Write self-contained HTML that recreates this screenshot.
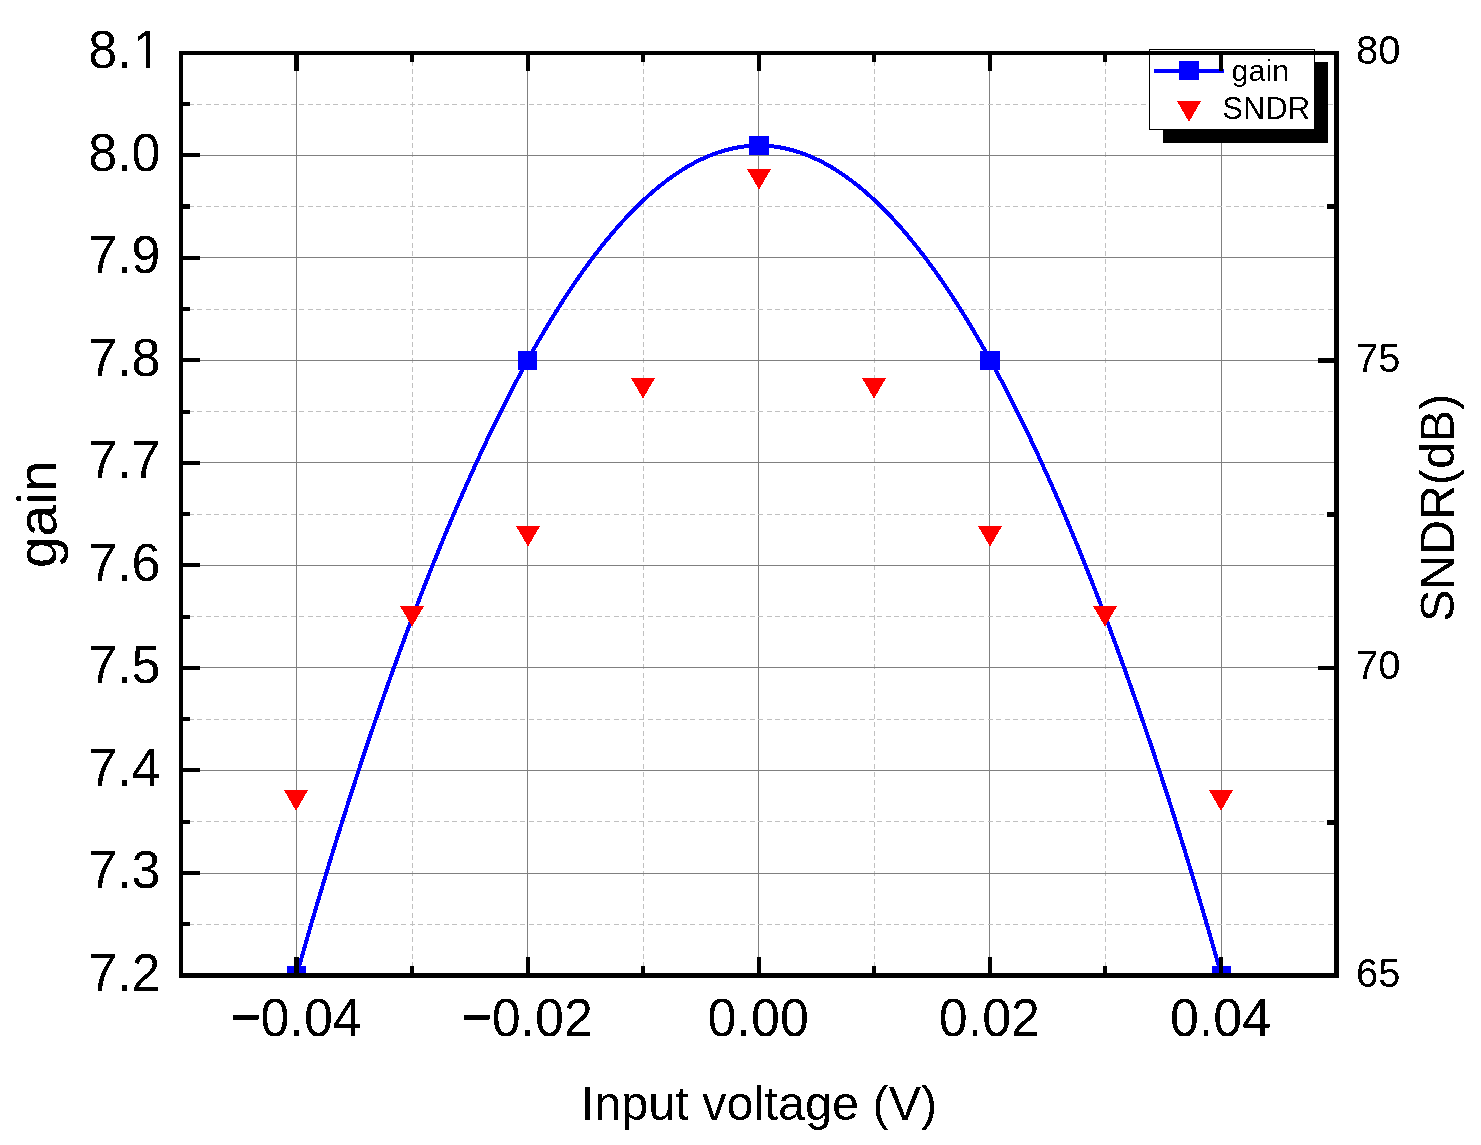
<!DOCTYPE html><html><head><meta charset="utf-8"><title>gain and SNDR vs input voltage</title><style>html,body{margin:0;padding:0;background:#fff;overflow:hidden;}svg{display:block;}text{font-family:"Liberation Sans",sans-serif;fill:#000;}</style></head><body>
<svg width="1481" height="1145" viewBox="0 0 1481 1145">
<rect x="0" y="0" width="1481" height="1145" fill="#fff"/>
<defs><filter id="bw" x="-5%" y="-5%" width="110%" height="110%" color-interpolation-filters="sRGB"><feComponentTransfer><feFuncA type="discrete" tableValues="0 1"/></feComponentTransfer></filter><clipPath id="c81" clipPathUnits="userSpaceOnUse"><rect x="-200" y="-100" width="300" height="96"/><rect x="-200" y="-4" width="172.5" height="20"/><rect x="-15.5" y="-4" width="4" height="20"/></clipPath><clipPath id="pa"><rect x="183" y="55" width="1151" height="918"/></clipPath></defs>
<g shape-rendering="crispEdges"><rect x="296" y="55" width="1" height="918" fill="#808080"/><line x1="412.5" y1="52.46" x2="412.5" y2="973" stroke="#c0c0c0" stroke-width="1" stroke-dasharray="5 3.27"/><rect x="527" y="55" width="1" height="918" fill="#808080"/><line x1="643.5" y1="52.46" x2="643.5" y2="973" stroke="#c0c0c0" stroke-width="1" stroke-dasharray="5 3.27"/><rect x="758" y="55" width="1" height="918" fill="#808080"/><line x1="874.5" y1="52.46" x2="874.5" y2="973" stroke="#c0c0c0" stroke-width="1" stroke-dasharray="5 3.27"/><rect x="989" y="55" width="1" height="918" fill="#808080"/><line x1="1105.5" y1="52.46" x2="1105.5" y2="973" stroke="#c0c0c0" stroke-width="1" stroke-dasharray="5 3.27"/><rect x="1221" y="55" width="1" height="918" fill="#808080"/><line x1="180" y1="104.5" x2="1334" y2="104.5" stroke="#c0c0c0" stroke-width="1" stroke-dasharray="5.25 3.25"/><rect x="183" y="155" width="1151" height="1" fill="#808080"/><line x1="180" y1="206.5" x2="1334" y2="206.5" stroke="#c0c0c0" stroke-width="1" stroke-dasharray="5.25 3.25"/><rect x="183" y="257" width="1151" height="1" fill="#808080"/><line x1="180" y1="309.5" x2="1334" y2="309.5" stroke="#c0c0c0" stroke-width="1" stroke-dasharray="5.25 3.25"/><rect x="183" y="360" width="1151" height="1" fill="#808080"/><line x1="180" y1="411.5" x2="1334" y2="411.5" stroke="#c0c0c0" stroke-width="1" stroke-dasharray="5.25 3.25"/><rect x="183" y="462" width="1151" height="1" fill="#808080"/><line x1="180" y1="514.5" x2="1334" y2="514.5" stroke="#c0c0c0" stroke-width="1" stroke-dasharray="5.25 3.25"/><rect x="183" y="565" width="1151" height="1" fill="#808080"/><line x1="180" y1="616.5" x2="1334" y2="616.5" stroke="#c0c0c0" stroke-width="1" stroke-dasharray="5.25 3.25"/><rect x="183" y="667" width="1151" height="1" fill="#808080"/><line x1="180" y1="719.5" x2="1334" y2="719.5" stroke="#c0c0c0" stroke-width="1" stroke-dasharray="5.25 3.25"/><rect x="183" y="770" width="1151" height="1" fill="#808080"/><line x1="180" y1="821.5" x2="1334" y2="821.5" stroke="#c0c0c0" stroke-width="1" stroke-dasharray="5.25 3.25"/><rect x="183" y="873" width="1151" height="1" fill="#808080"/><line x1="180" y1="924.5" x2="1334" y2="924.5" stroke="#c0c0c0" stroke-width="1" stroke-dasharray="5.25 3.25"/></g>
<g clip-path="url(#pa)">
<path d="M296.50,975.60 L300.49,961.48 L304.47,947.50 L308.46,933.65 L312.45,919.94 L316.44,906.35 L320.42,892.91 L324.41,879.59 L328.40,866.40 L332.38,853.34 L336.37,840.41 L340.36,827.61 L344.34,814.93 L348.33,802.38 L352.32,789.96 L356.31,777.65 L360.29,765.48 L364.28,753.42 L368.27,741.49 L372.25,729.67 L376.24,717.98 L380.23,706.41 L384.22,694.96 L388.20,683.63 L392.19,672.41 L396.18,661.32 L400.16,650.34 L404.15,639.48 L408.14,628.74 L412.12,618.11 L416.11,607.60 L420.10,597.21 L424.09,586.93 L428.07,576.77 L432.06,566.73 L436.05,556.80 L440.03,546.98 L444.02,537.28 L448.01,527.69 L452.00,518.22 L455.98,508.87 L459.97,499.62 L463.96,490.50 L467.94,481.48 L471.93,472.58 L475.92,463.80 L479.91,455.13 L483.89,446.58 L487.88,438.13 L491.87,429.81 L495.85,421.60 L499.84,413.50 L503.83,405.52 L507.81,397.65 L511.80,389.90 L515.79,382.26 L519.78,374.74 L523.76,367.34 L527.75,360.05 L531.74,352.88 L535.72,345.82 L539.71,338.88 L543.70,332.06 L547.69,325.35 L551.67,318.77 L555.66,312.30 L559.65,305.94 L563.63,299.71 L567.62,293.59 L571.61,287.59 L575.59,281.72 L579.58,275.96 L583.57,270.32 L587.56,264.80 L591.54,259.40 L595.53,254.12 L599.52,248.96 L603.50,243.93 L607.49,239.02 L611.48,234.22 L615.47,229.55 L619.45,225.01 L623.44,220.58 L627.43,216.28 L631.41,212.10 L635.40,208.05 L639.39,204.12 L643.38,200.32 L647.36,196.64 L651.35,193.09 L655.34,189.66 L659.32,186.36 L663.31,183.18 L667.30,180.13 L671.28,177.21 L675.27,174.42 L679.26,171.75 L683.25,169.21 L687.23,166.80 L691.22,164.52 L695.21,162.37 L699.19,160.34 L703.18,158.45 L707.17,156.68 L711.16,155.05 L715.14,153.54 L719.13,152.16 L723.12,150.92 L727.10,149.80 L731.09,148.82 L735.08,147.97 L739.06,147.24 L743.05,146.65 L747.04,146.19 L751.03,145.86 L755.01,145.67 L759.00,145.60 L762.99,145.67 L766.97,145.86 L770.96,146.19 L774.95,146.65 L778.94,147.24 L782.92,147.97 L786.91,148.82 L790.90,149.80 L794.88,150.92 L798.87,152.16 L802.86,153.54 L806.84,155.05 L810.83,156.68 L814.82,158.45 L818.81,160.34 L822.79,162.37 L826.78,164.52 L830.77,166.80 L834.75,169.21 L838.74,171.75 L842.73,174.42 L846.72,177.21 L850.70,180.13 L854.69,183.18 L858.68,186.36 L862.66,189.66 L866.65,193.09 L870.64,196.64 L874.62,200.32 L878.61,204.12 L882.60,208.05 L886.59,212.10 L890.57,216.28 L894.56,220.58 L898.55,225.01 L902.53,229.55 L906.52,234.22 L910.51,239.02 L914.50,243.93 L918.48,248.96 L922.47,254.12 L926.46,259.40 L930.44,264.80 L934.43,270.32 L938.42,275.96 L942.41,281.72 L946.39,287.59 L950.38,293.59 L954.37,299.71 L958.35,305.94 L962.34,312.30 L966.33,318.77 L970.31,325.35 L974.30,332.06 L978.29,338.88 L982.28,345.82 L986.26,352.88 L990.25,360.05 L994.24,367.34 L998.22,374.74 L1002.21,382.26 L1006.20,389.90 L1010.19,397.65 L1014.17,405.52 L1018.16,413.50 L1022.15,421.60 L1026.13,429.81 L1030.12,438.13 L1034.11,446.58 L1038.09,455.13 L1042.08,463.80 L1046.07,472.58 L1050.06,481.48 L1054.04,490.50 L1058.03,499.62 L1062.02,508.87 L1066.00,518.22 L1069.99,527.69 L1073.98,537.28 L1077.97,546.98 L1081.95,556.80 L1085.94,566.73 L1089.93,576.77 L1093.91,586.93 L1097.90,597.21 L1101.89,607.60 L1105.88,618.11 L1109.86,628.74 L1113.85,639.48 L1117.84,650.34 L1121.82,661.32 L1125.81,672.41 L1129.80,683.63 L1133.78,694.96 L1137.77,706.41 L1141.76,717.98 L1145.75,729.67 L1149.73,741.49 L1153.72,753.42 L1157.71,765.48 L1161.69,777.65 L1165.68,789.96 L1169.67,802.38 L1173.66,814.93 L1177.64,827.61 L1181.63,840.41 L1185.62,853.34 L1189.60,866.40 L1193.59,879.59 L1197.58,892.91 L1201.56,906.35 L1205.55,919.94 L1209.54,933.65 L1213.53,947.50 L1217.51,961.48 L1221.50,975.60" fill="none" stroke="#0000ff" stroke-width="4" shape-rendering="crispEdges"/>
<rect x="287" y="966" width="19" height="19" fill="#0000ff"/>
<rect x="518" y="351" width="19" height="19" fill="#0000ff"/>
<rect x="749" y="136" width="20" height="19" fill="#0000ff"/>
<rect x="980" y="351" width="20" height="19" fill="#0000ff"/>
<rect x="1212" y="966" width="19" height="19" fill="#0000ff"/>
<polygon points="284,790 308,790 296,811" fill="#ff0000" shape-rendering="crispEdges"/>
<polygon points="400,606 424,606 412,626.5" fill="#ff0000" shape-rendering="crispEdges"/>
<polygon points="516,526 540,526 528,546.5" fill="#ff0000" shape-rendering="crispEdges"/>
<polygon points="631,378 655,378 643,398.5" fill="#ff0000" shape-rendering="crispEdges"/>
<polygon points="747,169 771,169 759,189.5" fill="#ff0000" shape-rendering="crispEdges"/>
<polygon points="862,378 886,378 874,398.5" fill="#ff0000" shape-rendering="crispEdges"/>
<polygon points="978,526 1002,526 990,546.5" fill="#ff0000" shape-rendering="crispEdges"/>
<polygon points="1093,606 1117,606 1105,626.5" fill="#ff0000" shape-rendering="crispEdges"/>
<polygon points="1209,790 1233,790 1221,811" fill="#ff0000" shape-rendering="crispEdges"/>
</g>
<rect x="1163" y="62" width="165" height="81" fill="#000"/>
<rect x="1149.5" y="49.5" width="165" height="80" fill="#fff" stroke="#000" stroke-width="1"/>
<rect x="1154" y="69" width="70" height="4" fill="#0000ff"/>
<rect x="1179" y="61" width="20" height="19" fill="#0000ff"/>
<polygon points="1177,101 1201,101 1189,122" fill="#ff0000" shape-rendering="crispEdges"/>
<g filter="url(#bw)"><text transform="translate(1231.5,80.7) scale(1,0.95)" font-size="30.5">gain</text>
<text x="1222.3" y="118.5" font-size="31">SNDR</text></g>
<g shape-rendering="crispEdges"><rect x="179" y="51" width="4" height="927" fill="#000"/><rect x="1334" y="51" width="5" height="927" fill="#000"/><rect x="179" y="51" width="1160" height="4" fill="#000"/><rect x="179" y="973" width="1160" height="5" fill="#000"/><rect x="294" y="957" width="5" height="16" fill="#000"/><rect x="294" y="55" width="5" height="16" fill="#000"/><rect x="410" y="966" width="4" height="7" fill="#000"/><rect x="410" y="55" width="4" height="7" fill="#000"/><rect x="526" y="957" width="4" height="16" fill="#000"/><rect x="526" y="55" width="4" height="16" fill="#000"/><rect x="641" y="966" width="4" height="7" fill="#000"/><rect x="641" y="55" width="4" height="7" fill="#000"/><rect x="757" y="957" width="4" height="16" fill="#000"/><rect x="757" y="55" width="4" height="16" fill="#000"/><rect x="872" y="966" width="4" height="7" fill="#000"/><rect x="872" y="55" width="4" height="7" fill="#000"/><rect x="988" y="957" width="4" height="16" fill="#000"/><rect x="988" y="55" width="4" height="16" fill="#000"/><rect x="1103" y="966" width="4" height="7" fill="#000"/><rect x="1103" y="55" width="4" height="7" fill="#000"/><rect x="1219" y="957" width="4" height="16" fill="#000"/><rect x="1219" y="55" width="4" height="16" fill="#000"/><rect x="183" y="102" width="7" height="4" fill="#000"/><rect x="183" y="153" width="17" height="4" fill="#000"/><rect x="183" y="204" width="7" height="5" fill="#000"/><rect x="183" y="256" width="17" height="4" fill="#000"/><rect x="183" y="307" width="7" height="4" fill="#000"/><rect x="183" y="358" width="17" height="4" fill="#000"/><rect x="183" y="410" width="7" height="4" fill="#000"/><rect x="183" y="461" width="17" height="4" fill="#000"/><rect x="183" y="512" width="7" height="4" fill="#000"/><rect x="183" y="563" width="17" height="4" fill="#000"/><rect x="183" y="615" width="7" height="4" fill="#000"/><rect x="183" y="666" width="17" height="4" fill="#000"/><rect x="183" y="717" width="7" height="4" fill="#000"/><rect x="183" y="768" width="17" height="4" fill="#000"/><rect x="183" y="820" width="7" height="4" fill="#000"/><rect x="183" y="871" width="17" height="4" fill="#000"/><rect x="183" y="922" width="7" height="4" fill="#000"/><rect x="1327" y="204" width="7" height="5" fill="#000"/><rect x="1318" y="358" width="16" height="5" fill="#000"/><rect x="1327" y="512" width="7" height="5" fill="#000"/><rect x="1318" y="666" width="16" height="4" fill="#000"/><rect x="1327" y="820" width="7" height="5" fill="#000"/></g>
<g filter="url(#bw)">
<text transform="translate(161.5,68.0) scale(1,1.028)" font-size="52" text-anchor="end" clip-path="url(#c81)">8.<tspan dx="1">1</tspan></text>
<text transform="translate(160.5,170.6) scale(1,1.028)" font-size="52" text-anchor="end">8.0</text>
<text transform="translate(160.5,273.1) scale(1,1.028)" font-size="52" text-anchor="end">7.9</text>
<text transform="translate(160.5,375.7) scale(1,1.028)" font-size="52" text-anchor="end">7.8</text>
<text transform="translate(160.5,478.2) scale(1,1.028)" font-size="52" text-anchor="end">7.7</text>
<text transform="translate(160.5,580.8) scale(1,1.028)" font-size="52" text-anchor="end">7.6</text>
<text transform="translate(160.5,683.3) scale(1,1.028)" font-size="52" text-anchor="end">7.5</text>
<text transform="translate(160.5,785.9) scale(1,1.028)" font-size="52" text-anchor="end">7.4</text>
<text transform="translate(160.5,888.4) scale(1,1.028)" font-size="52" text-anchor="end">7.3</text>
<text transform="translate(160.5,991.0) scale(1,1.028)" font-size="52" text-anchor="end">7.2</text>
<text transform="translate(296.0,1036) scale(1,1.028)" font-size="52" text-anchor="middle"><tspan dy="-1.2" stroke="#000" stroke-width="1">&#8722;</tspan><tspan dy="1.2">0.04</tspan></text>
<text transform="translate(527.1,1036) scale(1,1.028)" font-size="52" text-anchor="middle"><tspan dy="-1.2" stroke="#000" stroke-width="1">&#8722;</tspan><tspan dy="1.2">0.02</tspan></text>
<text transform="translate(758.2,1036) scale(1,1.028)" font-size="52" text-anchor="middle">0.00</text>
<text transform="translate(989.4,1036) scale(1,1.028)" font-size="52" text-anchor="middle">0.02</text>
<text transform="translate(1220.5,1036) scale(1,1.028)" font-size="52" text-anchor="middle">0.04</text>
<text x="1356" y="64.2" font-size="40">80</text>
<text x="1356" y="371.8" font-size="40">75</text>
<text x="1356" y="679.3" font-size="40">70</text>
<text x="1356" y="986.9" font-size="40">65</text>
<text x="759" y="1119.5" font-size="48.6" text-anchor="middle">Input voltage (V)</text>
<text transform="translate(56.1,514.4) rotate(-90) scale(1,0.975)" font-size="57" text-anchor="middle">gain</text>
<text transform="translate(1453.9,507.8) rotate(-90)" font-size="48.3" text-anchor="middle">SNDR(dB)</text>
</g>
</svg></body></html>
